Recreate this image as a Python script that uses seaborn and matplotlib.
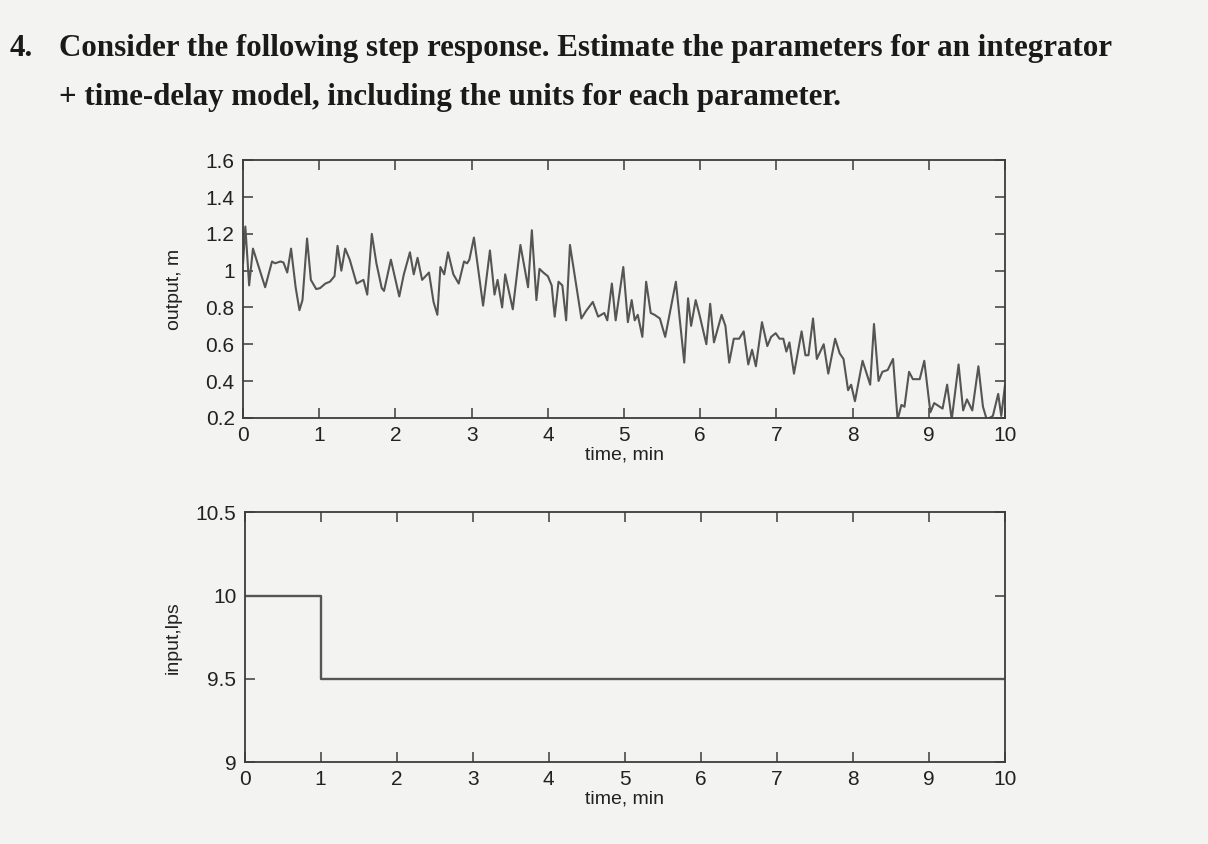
import numpy as np
import pandas as pd
import matplotlib
matplotlib.use("Agg")
import matplotlib.pyplot as plt
import seaborn as sns

# ---- data ----
out_t = [0.00, 0.03, 0.08, 0.13, 0.29, 0.38, 0.42, 0.49, 0.53, 0.58, 0.63, 0.69, 0.74, 0.78, 0.84,
         0.89, 0.96, 1.01, 1.08, 1.14, 1.20, 1.24, 1.29, 1.34, 1.40, 1.49, 1.58, 1.63, 1.69, 1.75,
         1.82, 1.85, 1.94, 2.05, 2.11, 2.19, 2.24, 2.29, 2.35, 2.44, 2.50, 2.55, 2.59, 2.64, 2.69,
         2.76, 2.83, 2.90, 2.94, 2.97, 3.03, 3.15, 3.24, 3.30, 3.34, 3.40, 3.44, 3.54, 3.64, 3.74,
         3.79, 3.85, 3.89, 3.94, 4.00, 4.05, 4.09, 4.14, 4.19, 4.24, 4.29, 4.44, 4.50, 4.59, 4.66,
         4.74, 4.78, 4.84, 4.89, 4.99, 5.05, 5.10, 5.14, 5.18, 5.24, 5.29, 5.35, 5.40, 5.47, 5.54,
         5.68, 5.79, 5.84, 5.88, 5.94, 5.99, 6.08, 6.13, 6.18, 6.28, 6.33, 6.38, 6.44, 6.51, 6.57,
         6.63, 6.68, 6.73, 6.81, 6.88, 6.93, 6.99, 7.04, 7.09, 7.13, 7.17, 7.23, 7.33, 7.38, 7.42,
         7.48, 7.53, 7.62, 7.68, 7.77, 7.83, 7.88, 7.94, 7.98, 8.03, 8.13, 8.23, 8.28, 8.34, 8.39,
         8.46, 8.53, 8.59, 8.64, 8.68, 8.74, 8.79, 8.88, 8.94, 9.02, 9.07, 9.18, 9.24, 9.30, 9.39,
         9.45, 9.50, 9.57, 9.65, 9.71, 9.76, 9.84, 9.91, 9.95, 10.00]
out_m = [1.04, 1.24, 0.92, 1.12, 0.91, 1.05, 1.04, 1.05, 1.045, 0.99, 1.12, 0.91, 0.785, 0.84, 1.175,
         0.95, 0.90, 0.905, 0.93, 0.94, 0.97, 1.135, 1.00, 1.12, 1.06, 0.93, 0.95, 0.87, 1.20, 1.04,
         0.905, 0.89, 1.06, 0.86, 0.98, 1.10, 0.98, 1.07, 0.95, 0.99, 0.83, 0.76, 1.02, 0.98, 1.10,
         0.98, 0.93, 1.05, 1.04, 1.06, 1.18, 0.81, 1.11, 0.87, 0.95, 0.80, 0.98, 0.79, 1.14, 0.91,
         1.22, 0.84, 1.01, 0.99, 0.97, 0.92, 0.75, 0.94, 0.92, 0.73, 1.14, 0.74, 0.78, 0.83, 0.75,
         0.77, 0.73, 0.93, 0.73, 1.02, 0.72, 0.84, 0.73, 0.76, 0.64, 0.94, 0.77, 0.76, 0.74, 0.64,
         0.94, 0.50, 0.85, 0.70, 0.84, 0.76, 0.60, 0.82, 0.61, 0.76, 0.70, 0.50, 0.63, 0.63, 0.67,
         0.49, 0.57, 0.48, 0.72, 0.59, 0.64, 0.66, 0.63, 0.63, 0.56, 0.61, 0.44, 0.67, 0.54, 0.54,
         0.74, 0.52, 0.60, 0.44, 0.63, 0.55, 0.52, 0.35, 0.38, 0.29, 0.51, 0.38, 0.71, 0.40, 0.45,
         0.46, 0.52, 0.19, 0.27, 0.26, 0.45, 0.41, 0.41, 0.51, 0.23, 0.28, 0.25, 0.38, 0.19, 0.49,
         0.24, 0.30, 0.24, 0.48, 0.26, 0.19, 0.21, 0.33, 0.21, 0.38]

in_t = [0, 1, 10]
in_lps = [10.0, 9.5, 9.5]

x_ticks = [0, 1, 2, 3, 4, 5, 6, 7, 8, 9, 10]
out_yticks = [0.2, 0.4, 0.6, 0.8, 1.0, 1.2, 1.4, 1.6]
out_ylabels = ["0.2", "0.4", "0.6", "0.8", "1", "1.2", "1.4", "1.6"]
in_yticks = [9.0, 9.5, 10.0, 10.5]
in_ylabels = ["9", "9.5", "10", "10.5"]

question_num = "4."
question_lines = ["Consider the following step response. Estimate the parameters for an integrator",
                  "+ time-delay model, including the units for each parameter."]

# ---- style ----
sns.set_theme(style="ticks")
plt.rcParams["font.family"] = ["Liberation Sans", "DejaVu Sans"]
paper = "#f3f3f1"
ink = "#3c3c3c"
line_col = "#555555"

fig = plt.figure(figsize=(12.08, 8.44), dpi=100, facecolor=paper)

ax1 = fig.add_axes([0.2012, 0.505, 0.6308, 0.305])
ax2 = fig.add_axes([0.2025, 0.097, 0.6295, 0.296])

df_out = pd.DataFrame({"t": out_t, "y": out_m})
df_in = pd.DataFrame({"t": in_t, "u": in_lps})

sns.lineplot(data=df_out, x="t", y="y", ax=ax1, color=line_col, lw=1.5,
             estimator=None, sort=False)
sns.lineplot(data=df_in, x="t", y="u", ax=ax2, color=line_col, lw=1.7,
             estimator=None, sort=False, drawstyle="steps-post")

for ax in (ax1, ax2):
    ax.set_facecolor(paper)
    ax.set_xlim(0, 10)
    ax.set_xticks(x_ticks)
    ax.set_xticklabels([str(v) for v in x_ticks])
    for sp in ax.spines.values():
        sp.set_visible(True)
        sp.set_color(ink)
        sp.set_linewidth(1.3)
    ax.tick_params(direction="in", top=True, right=True, length=7, width=1.1,
                   color=ink, labelsize=15, labelcolor="#222222", pad=6)
    ax.set_xlabel("time, min", fontsize=14, color="#222222", labelpad=1)

ax1.set_ylim(0.2, 1.6)
ax1.set_yticks(out_yticks)
ax1.set_yticklabels(out_ylabels)
ax1.set_ylabel("output, m", fontsize=14, color="#222222", labelpad=16)

ax2.set_ylim(9.0, 10.5)
ax2.set_yticks(in_yticks)
ax2.set_yticklabels(in_ylabels)
ax2.set_ylabel("input,lps", fontsize=14, color="#222222", labelpad=10)

serif = ["Liberation Serif", "DejaVu Serif"]
fs = 22.3
fig.text(0.008, 0.943, question_num, fontsize=fs, fontweight="bold", family=serif,
         color="#1a1a1a", va="center", ha="left")
fig.text(0.049, 0.943, question_lines[0], fontsize=fs, fontweight="bold", family=serif,
         color="#1a1a1a", va="center", ha="left")
fig.text(0.049, 0.884, question_lines[1], fontsize=fs, fontweight="bold", family=serif,
         color="#1a1a1a", va="center", ha="left")

fig.savefig("out.png", dpi=100, facecolor=paper)
